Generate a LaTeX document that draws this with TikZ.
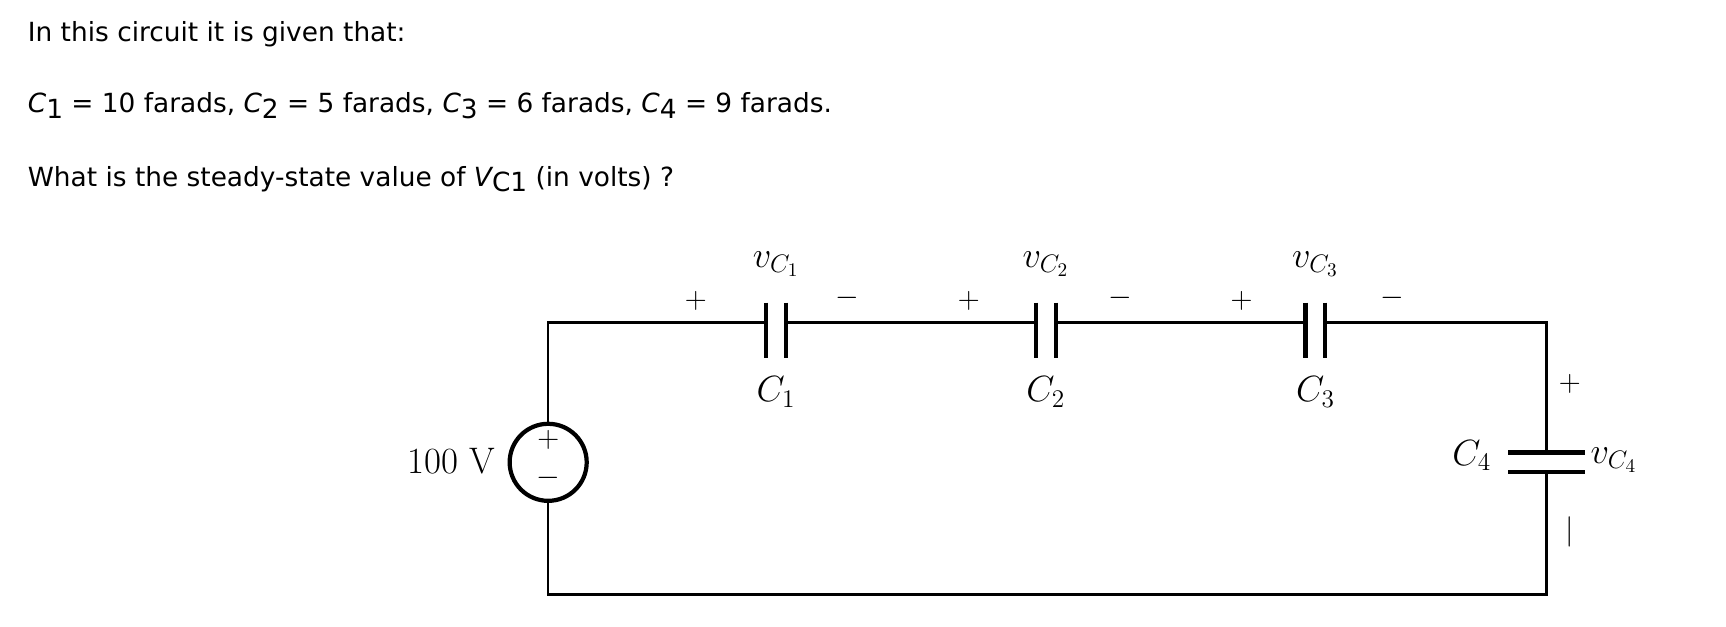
\documentclass[tikz,border=0pt]{standalone}
\usepackage{fontspec}
\newfontfamily\qfont{DejaVu Sans}
\usetikzlibrary{positioning}
\tikzset{
  qtext/.style={anchor=west,font=\qfont\fontsize{15}{18}\selectfont,inner sep=0},
  lbl/.style={font=\fontsize{21}{24}\selectfont,inner sep=0},
  sgn/.style={font=\fontsize{17}{20}\selectfont,inner sep=0},
  wire/.style={line width=1.3pt},
  plate/.style={line width=2.4pt}
}
\newcommand{\csub}[2]{{\itshape #1}\raisebox{-0.35ex}{#2}}
\begin{document}
\begin{tikzpicture}[x=0.022cm,y=-0.022cm]
\useasboundingbox (0,0) rectangle (1568,569);

% question text
\node[qtext] (l1) at (25,31) {In this circuit it is given that:};
\node[qtext] (l2) at (25,96) {\csub{C}{1} = 10 farads, \csub{C}{2} = 5 farads, \csub{C}{3} = 6 farads, \csub{C}{4} = 9 farads.};
\node[qtext] (l3) at (25,163) {What is the steady-state value of \csub{V}{C1} (in volts) ?};

% corners
\coordinate (tl) at (498,293);
\coordinate (tr) at (1405,293);
\coordinate (bl) at (498,540);
\coordinate (br) at (1405,540);

% source
\node[circle,draw,line width=2.4pt,minimum size=1.54cm,inner sep=0] (src) at (498,420) {};
\node[sgn] (sp) at (498,400) {$+$};
\node[sgn] (sm) at (498,434) {$-$};
\node[lbl,anchor=east] (sv) at (450,419) {100 V};

% series capacitors
\foreach \n/\x/\p/\m in {1/705/632/770,2/950/880/1018,3/1195/1128/1265}{
  \coordinate (c\n a) at (\x-9,293);
  \coordinate (c\n b) at (\x+9,293);
  \draw[plate] (\x-9,275) -- (\x-9,325);
  \draw[plate] (\x+9,275) -- (\x+9,325);
  \node[lbl] (v\n) at (\x,240) {$v_{C_\n}$};
  \node[lbl] (n\n) at (\x,356) {$C_\n$};
  \node[sgn] (p\n) at (\p,273) {$+$};
  \node[sgn] (m\n) at (\m,271) {$-$};
}

% C4
\coordinate (c4a) at (1405,411);
\coordinate (c4b) at (1405,429);
\draw[plate] (1370,411) -- (1440,411);
\draw[plate] (1370,429) -- (1440,429);
\node[lbl] (n4) at (1337,414) {$C_4$};
\node[lbl] (v4) at (1466,418) {$v_{C_4}$};
\node[sgn] (p4) at (1426,349) {$+$};
\node[sgn] (m4) at (1426,483) {$|$};

% wires
\draw[wire] (src.north) -- (tl) -- (c1a);
\draw[wire] (c1b) -- (c2a);
\draw[wire] (c2b) -- (c3a);
\draw[wire] (c3b) -- (tr) -- (c4a);
\draw[wire] (c4b) -- (br) -- (bl) -- (src.south);
\end{tikzpicture}
\end{document}
